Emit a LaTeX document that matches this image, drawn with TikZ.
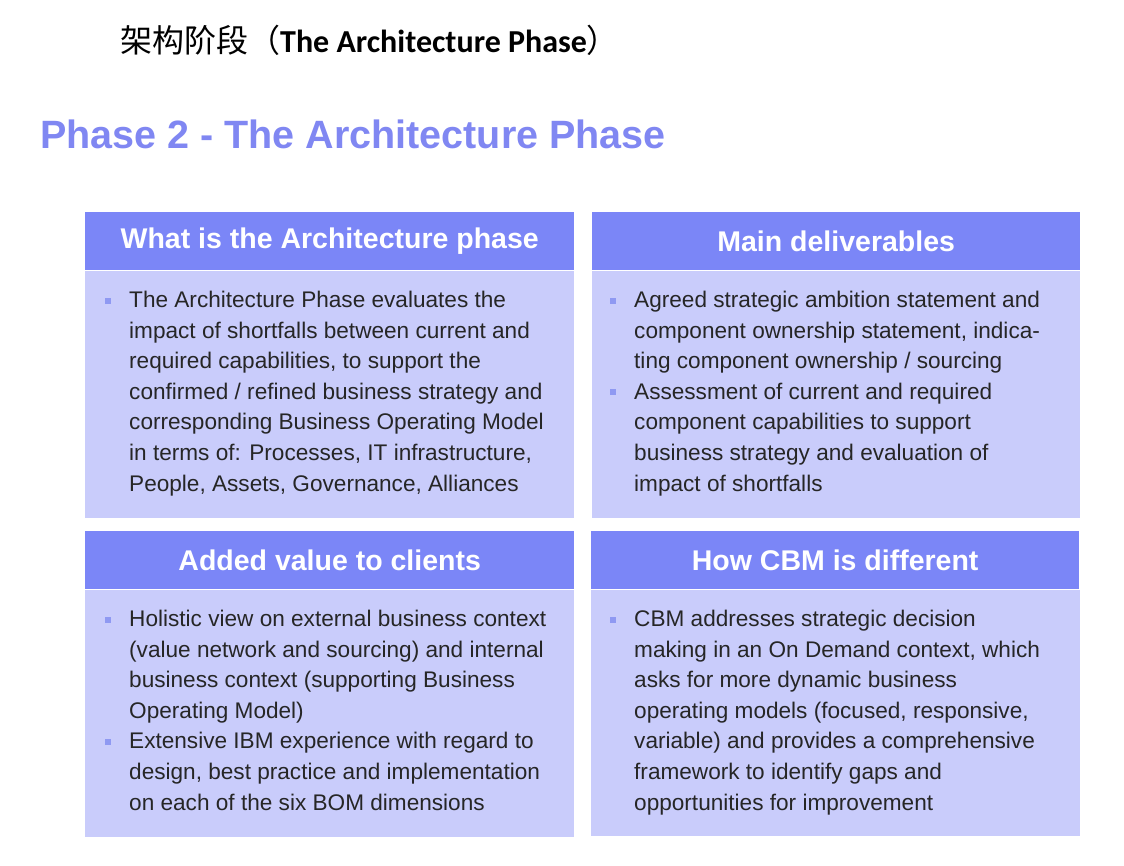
\documentclass[tikz,border=0pt]{standalone}
\usepackage{fontspec}
\setmainfont{Liberation Sans}
\newfontfamily\cjk{Noto Sans CJK SC}
\newfontfamily\calfont{Carlito}
\definecolor{hdr}{HTML}{7B86F7}
\definecolor{bdy}{HTML}{C9CCFB}
\definecolor{ttl}{HTML}{8087F2}
\definecolor{bul}{HTML}{8F99F2}
\newcommand{\bl}{\makebox[24pt][l]{\raisebox{4pt}{\color{bul}\rule{6pt}{6pt}}}}
\newcommand{\ind}{\hspace*{24pt}}
\tikzset{x=1pt,y=-1pt,
 hbox/.style={fill=hdr,draw=none,minimum width=489pt,minimum height=58pt,anchor=north west,inner sep=0pt,text=white,font=\fontsize{28.5}{30}\selectfont\bfseries},
 bbox/.style={fill=bdy,draw=none,minimum width=489pt,anchor=north west,inner sep=0pt},
 btext/.style={anchor=north west,align=left,inner sep=0pt,font=\fontsize{22.6}{30.6}\selectfont,text=black!85}}
\begin{document}
\begin{tikzpicture}
\useasboundingbox (0,0) rectangle (1124,866);
\node[anchor=west,inner sep=0pt,font=\fontsize{32}{34}\selectfont] (top) at (120,40) {{\cjk 架构阶段（}{\calfont\bfseries The Architecture Phase}{\cjk ）}};
\node[anchor=west,inner sep=0pt,text=ttl,font=\fontsize{39.5}{42}\selectfont\bfseries] (title) at (40,134) {Phase 2 - The Architecture Phase};
% boxes
\node[hbox] (h1) at (85,212) {What is the Architecture phase};
\node[bbox,minimum height=247pt] (b1) at (85,271) {};
\node[hbox,minimum width=488pt] (h2) at (592,212) {Main deliverables};
\node[bbox,minimum width=488pt,minimum height=247pt] (b2) at (592,271) {};
\node[hbox] (h3) at (85,531) {Added value to clients};
\node[bbox,minimum height=247pt] (b3) at (85,590) {};
\node[hbox,minimum width=488pt] (h4) at (591,531) {How CBM is different};
\node[bbox,minimum width=489pt,minimum height=246pt] (b4) at (591,590) {};
% texts
\node[btext] (t1) at (105,291) {\bl The Architecture Phase evaluates the\\ \ind impact of shortfalls between current and\\ \ind required capabilities, to support the\\ \ind confirmed / refined business strategy and\\ \ind corresponding Business Operating Model\\ \ind in terms of: Processes, IT infrastructure,\\ \ind People, Assets, Governance, Alliances};
\node[btext] (t2) at (610,291) {\bl Agreed strategic ambition statement and\\ \ind component ownership statement, indica-\\ \ind ting component ownership / sourcing\\ \bl Assessment of current and required\\ \ind component capabilities to support\\ \ind business strategy and evaluation of\\ \ind impact of shortfalls};
\node[btext] (t3) at (105,610) {\bl Holistic view on external business context\\ \ind (value network and sourcing) and internal\\ \ind business context (supporting Business\\ \ind Operating Model)\\ \bl Extensive IBM experience with regard to\\ \ind design, best practice and implementation\\ \ind on each of the six BOM dimensions};
\node[btext] (t4) at (610,610) {\bl CBM addresses strategic decision\\ \ind making in an On Demand context, which\\ \ind asks for more dynamic business\\ \ind operating models (focused, responsive,\\ \ind variable) and provides a comprehensive\\ \ind framework to identify gaps and\\ \ind opportunities for improvement};
\end{tikzpicture}
\end{document}
